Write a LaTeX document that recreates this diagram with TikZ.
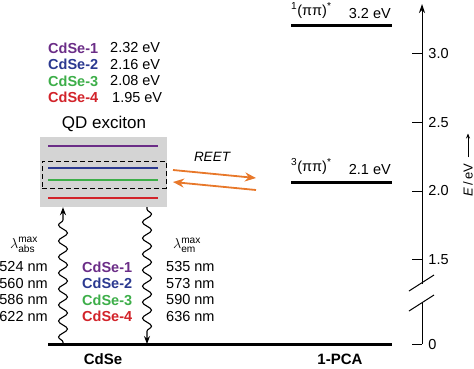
\documentclass[tikz,border=0pt]{standalone}
\usepackage{amsmath}
\usepackage{fontspec}
\setmainfont{Liberation Sans}
\usetikzlibrary{arrows.meta, positioning, decorations.pathmorphing}

\definecolor{qdpurple}{HTML}{6B2D87}
\definecolor{qdblue}{HTML}{2B3990}
\definecolor{qdgreen}{HTML}{3DAE49}
\definecolor{qdred}{HTML}{D2232A}
\definecolor{reetorange}{HTML}{E8782A}
\definecolor{boxgray}{HTML}{D4D4D4}

\begin{document}
\begin{tikzpicture}[x=1pt, y=-1pt, >=Stealth,
    every node/.style={inner sep=0pt, font=\fontsize{14.5}{17}\selectfont},
    level/.style={line width=3pt},
    exc/.style={line width=2.5pt},
    tick/.style={line width=0.9pt},
    wave/.style={-{Stealth[length=8pt, width=6pt]}, line width=1.1pt, decorate,
        decoration={snake, amplitude=4.5pt, segment length=16pt, pre length=2pt, post length=8pt}},
    reet/.style={-{Stealth[length=11pt, width=9pt]}, line width=1.8pt, draw=reetorange},
    bfl/.style={font=\fontsize{14.5}{17}\selectfont\bfseries}]
        \useasboundingbox (0,0) rectangle (474,368);

        % Legenda das energias dos QDs
        \node[bfl, text=qdpurple, anchor=west] (n1) at (48,48) {CdSe-1};
        \node[bfl, text=qdblue, anchor=west] (n2) at (48,64.5) {CdSe-2};
        \node[bfl, text=qdgreen, anchor=west] (n3) at (48,81) {CdSe-3};
        \node[bfl, text=qdred, anchor=west] (n4) at (48,97.5) {CdSe-4};
        \node[anchor=west] (e1) at (110,48) {2.32 eV};
        \node[anchor=west] (e2) at (110,64.5) {2.16 eV};
        \node[anchor=west] (e3) at (110,81) {2.08 eV};
        \node[anchor=west] (e4) at (112,97.5) {1.95 eV};

        % Caixa do exciton
        \node[font=\fontsize{17}{20}\selectfont] (qdtitle) at (104,124) {QD exciton};
        \node[fill=boxgray, minimum width=127pt, minimum height=70pt] (qd) at (103.5,172) {};
        \draw[exc, qdpurple] (48,146) -- (158,146);
        \draw[exc, qdblue] (48,168) -- (158,168);
        \draw[exc, qdgreen] (48,180) -- (158,180);
        \draw[exc, qdred] (48,198) -- (158,198);
        \node[draw, dashed, line width=1pt, dash pattern=on 5pt off 3pt,
            minimum width=124pt, minimum height=27pt] (pair) at (104,174.5) {};

        % Niveis de base
        \coordinate (gl) at (48,344);
        \coordinate (gr) at (392,344);
        \draw[level] (gl) -- (gr);
        \node[bfl, font=\fontsize{15}{18}\selectfont\bfseries] (cdse) at (103,359) {CdSe};
        \node[bfl, font=\fontsize{15}{18}\selectfont\bfseries] (pca) at (340,359) {1-PCA};

        % Absorcao e emissao
        \coordinate (absfoot) at (63,344);
        \draw[wave] (absfoot) -- (absfoot |- qd.south);
        \coordinate (emfoot) at (147,344);
        \draw[wave] (emfoot |- qd.south) -- (emfoot);

        \node (labs) at (24,245) {$\lambda^{\text{max}}_{\text{abs}}$};
        \node[anchor=east] (a1) at (48,267) {524 nm};
        \node[anchor=east] (a2) at (48,283.5) {560 nm};
        \node[anchor=east] (a3) at (48,300) {586 nm};
        \node[anchor=east] (a4) at (48,316.5) {622 nm};

        \node[bfl, text=qdpurple, anchor=west] (m1) at (82,267) {CdSe-1};
        \node[bfl, text=qdblue, anchor=west] (m2) at (82,283.5) {CdSe-2};
        \node[bfl, text=qdgreen, anchor=west] (m3) at (82,300) {CdSe-3};
        \node[bfl, text=qdred, anchor=west] (m4) at (82,316.5) {CdSe-4};

        \node (lem) at (187,245) {$\lambda^{\text{max}}_{\text{em}}$};
        \node[anchor=west] (b1) at (166,267) {535 nm};
        \node[anchor=west] (b2) at (166,283.5) {573 nm};
        \node[anchor=west] (b3) at (166,300) {590 nm};
        \node[anchor=west] (b4) at (166,316.5) {636 nm};

        % REET
        \node[font=\fontsize{13.5}{16}\selectfont\itshape] (reet) at (212,157) {REET};
        \coordinate (r1a) at (173,170);
        \coordinate (r1b) at (256,178);
        \coordinate (r2a) at (256,190);
        \coordinate (r2b) at (173,182);
        \draw[reet] (r1a) -- (r1b);
        \draw[reet] (r2a) -- (r2b);

        % Estados do 1-PCA
        \draw[level] (291,25) -- (392,25);
        \node[anchor=base west] (s1) at (291,15) {\textsuperscript{1}(ππ)\textsuperscript{*}};
        \node[anchor=base east] (s1e) at (391,18) {3.2 eV};
        \draw[level] (291,182) -- (392,182);
        \node[anchor=base west] (t1) at (291,171) {\textsuperscript{3}(ππ)\textsuperscript{*}};
        \node[anchor=base east] (t1e) at (391,174) {2.1 eV};

        % Eixo de energia com quebra
        \coordinate (ax0) at (422,344);
        \coordinate (axb) at (422,302);
        \coordinate (axt) at (422,284);
        \coordinate (axtop) at (422,4);
        \draw[line width=1pt] (ax0) -- (axb);
        \draw[-{Stealth[length=9pt, width=6pt]}, line width=1pt] (axt) -- (axtop);
        \draw[line width=1pt] (409,291) -- (434,275);
        \draw[line width=1pt] (409,311) -- (434,295);

        \draw[tick] (412,344) -- (422,344) node[anchor=west, xshift=6pt] (t0) {0};
        \draw[tick] (412,259.5) -- (422,259.5) node[anchor=west, xshift=6pt] (t15) {1.5};
        \draw[tick] (412,191) -- (422,191) node[anchor=west, xshift=6pt] (t20) {2.0};
        \draw[tick] (412,122.5) -- (422,122.5) node[anchor=west, xshift=6pt] (t25) {2.5};
        \draw[tick] (412,53.5) -- (422,53.5) node[anchor=west, xshift=6pt] (t30) {3.0};

        \node[rotate=90, font=\fontsize{13}{16}\selectfont] (elabel) at (468,180) {\textit{E}\,/\,eV};
        \draw[-{Stealth[length=5pt, width=4pt]}, line width=1pt] (elabel.east) ++(0,-6) -- ++(0,-24);
    \end{tikzpicture}
\end{document}
